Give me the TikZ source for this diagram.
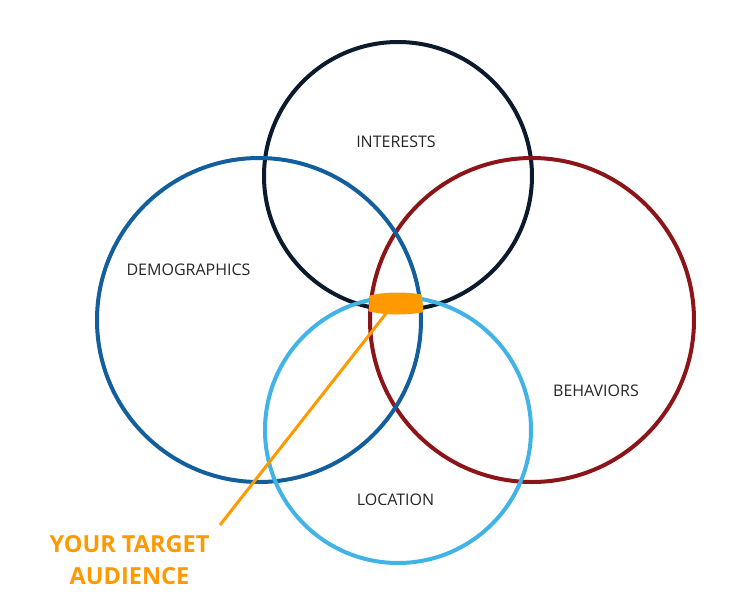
\documentclass[tikz,border=0pt]{standalone}
\usepackage{fontspec}
\setmainfont{Open Sans}
\definecolor{cnavy}{HTML}{0C1A2E}
\definecolor{cblue}{HTML}{135E9C}
\definecolor{cred}{HTML}{8B1518}
\definecolor{clight}{HTML}{41B3E6}
\definecolor{corange}{HTML}{FF9900}
\begin{document}
\begin{tikzpicture}[x=1pt,y=-1pt,
  ring/.style={circle,draw,line width=4pt,inner sep=0pt},
  lbl/.style={font=\fontsize{16}{19}\selectfont,text=black!85},
  target/.style={font=\fontsize{23.5}{32}\selectfont\bfseries,text=corange,align=center}]
\useasboundingbox (0,0) rectangle (748,608);
\node[ring,draw=cnavy,minimum size=268pt] (interests) at (398,176) {};
\node[ring,draw=cred,minimum size=324pt] (behaviors) at (532,320) {};
\node[ring,draw=cblue,minimum size=324pt] (demo) at (259,320) {};
\node[ring,draw=clight,minimum size=266pt] (location) at (398,430) {};
% orange target region
\begin{scope}
  \clip (398,176) circle (138.5);
  \clip (398,430) circle (137.5);
  \clip (259,320) circle (164.5);
  \clip (532,320) circle (163.5);
  \fill[corange] (300,250) rectangle (480,360);
\end{scope}
\node[lbl] (tint) at (396,142) {INTERESTS};
\node[lbl] (tdemo) at (188.5,270) {DEMOGRAPHICS};
\node[lbl] (tbeh) at (596,391) {BEHAVIORS};
\node[lbl] (tloc) at (395.5,500) {LOCATION};
\coordinate (blob) at (388,311);
\coordinate (lineend) at (220,525);
\draw[corange,line width=3pt] (blob) -- (lineend);
\node[target] (aud) at (129.5,560) {YOUR TARGET\\AUDIENCE};
\end{tikzpicture}
\end{document}
